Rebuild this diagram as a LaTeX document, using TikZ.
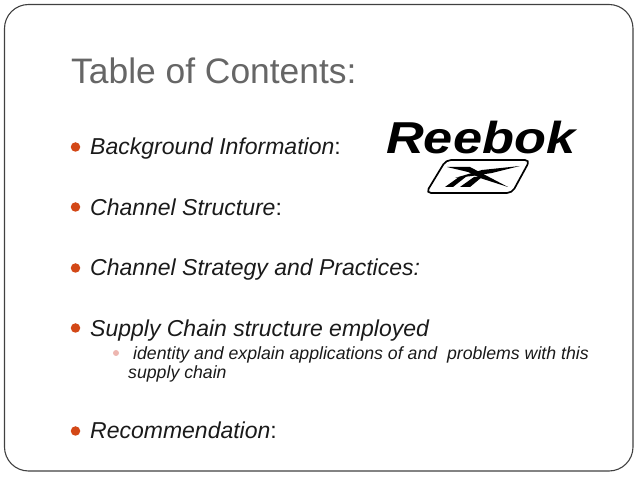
\documentclass[tikz,border=0pt]{standalone}
\usepackage{fontspec}
\usepackage{xcolor}
\setmainfont{Liberation Sans}
\definecolor{titlegray}{HTML}{666666}
\definecolor{framegray}{HTML}{404040}
\definecolor{dotred}{HTML}{D34817}
\definecolor{dotpink}{HTML}{EDB6B0}
\definecolor{bodyblack}{HTML}{1A1A1A}
\begin{document}
\begin{tikzpicture}[x=1pt,y=-1pt]%
  \tikzstyle{titlen}=[anchor=base west,inner sep=0,text=titlegray,font=\fontsize{35.4}{38}\selectfont]
  \tikzstyle{itemn}=[anchor=base west,inner sep=0,text=bodyblack,font=\fontsize{23}{26}\selectfont\itshape]
  \tikzstyle{subn}=[anchor=base west,inner sep=0,text=bodyblack,font=\fontsize{17.7}{20}\selectfont\itshape]
  \tikzstyle{dotn}=[circle,fill=dotred,inner sep=0,minimum size=9.5]
  \tikzstyle{subdotn}=[circle,fill=dotpink,inner sep=0,minimum size=6]
  \useasboundingbox (0,0) rectangle (638,478);
  \draw[framegray,line width=1.1,rounded corners=24] (4.5,4.5) rectangle (633,471);
  \node(title)[titlen] at (71,84){Table of Contents:};
  % bullets
  \node(d1)[dotn] at (75.5,147){};
  \node(d2)[dotn] at (75.5,207){};
  \node(d3)[dotn] at (75.5,268){};
  \node(d4)[dotn] at (75.5,328){};
  \node(d5)[dotn] at (75.5,431){};
  \node(d6)[subdotn] at (116,353){};
  % items
  \node(i1)[itemn] at (90,154.5){Background Information\upshape:};
  \node(i2)[itemn] at (90,215.5){Channel Structure\upshape:};
  \node(i3)[itemn] at (90,275.5){Channel Strategy and Practices:};
  \node(i4)[itemn] at (90,336.5){Supply Chain structure employed};
  \node(i5)[itemn] at (90,438.5){Recommendation\upshape:};
  \node(s1)[subn] at (133,360){identity and explain applications of and\ \ problems with this};
  \node(s2)[subn] at (128,379){supply chain};
  % logo
  \node(logo)[anchor=base west,inner sep=0,font=\fontsize{44.7}{48}\selectfont\bfseries\itshape] at (386,154){\scalebox{1.17}[1]{Reebok}};
  \draw[line width=1.7,rounded corners=5] (446,160) -- (530,160) -- (512,193) -- (426,193) -- cycle;
  \fill (447,167) -- (470,167) -- (508,187) -- (480,178) -- (468,172) -- cycle;
  \fill (520,166) -- (482,170) -- (455,178) -- (472,176) -- (492,173) -- cycle;
  \fill (445,187) -- (453,187) -- (467,176) -- (459,177) -- cycle;
  \fill (460,187) -- (470,187) -- (482,177) -- (474,177) -- cycle;
\end{tikzpicture}
\end{document}
